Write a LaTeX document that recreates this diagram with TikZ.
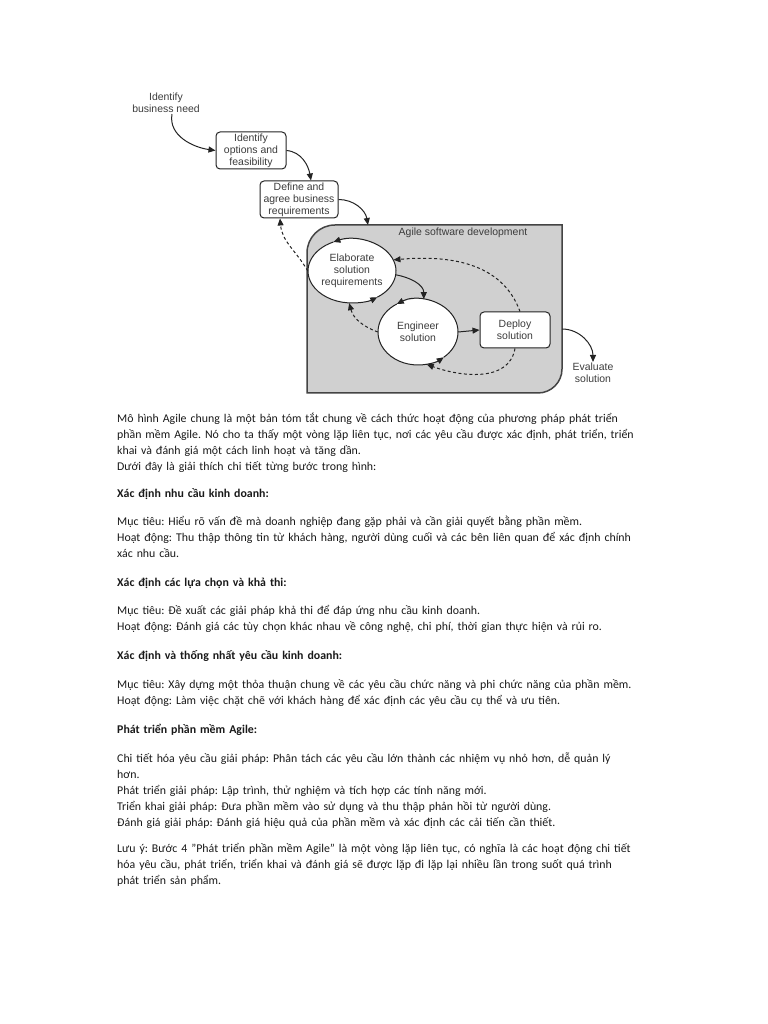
\documentclass[tikz,border=0pt]{standalone}
\usepackage{fontspec}
\setmainfont{Carlito}
\newfontfamily\diagfont{Liberation Sans}
\usetikzlibrary{arrows.meta,shapes.geometric}
\definecolor{boxgray}{RGB}{208,208,208}
\definecolor{ink}{RGB}{35,35,35}
\definecolor{label}{RGB}{60,60,60}
\frenchspacing

\tikzset{
  lbl/.style={font=\diagfont\fontsize{10.5}{12}\selectfont, text=label, align=center, inner sep=1bp},
  stepbox/.style={lbl, draw=ink, fill=white, line width=1bp, rounded corners=4bp, minimum width=70bp, minimum height=37bp},
  loopnode/.style={lbl, ellipse, fill=white, inner sep=0pt},
  flow/.style={->, draw=ink, line width=1bp},
  back/.style={->, draw=ink, line width=1bp, dash pattern=on 3bp off 2.5bp},
  body/.style={anchor=base west, inner sep=0pt, text width=640bp, align=left, text=black!90,
    font=\fontsize{11.9}{16}\selectfont},
  head/.style={body, font=\fontsize{11.9}{16}\selectfont\bfseries}
}

\begin{document}
\begin{tikzpicture}[x=1bp, y=1bp, >={Triangle[length=7bp,width=6bp]}]
  \useasboundingbox (0,0) rectangle (768,1024);

  % agile container
  \draw[fill=boxgray, draw=ink!85, line width=1.5bp]
    (307,631) -- (307,771) arc[start angle=180, end angle=90, radius=28bp]
    -- (562,799) -- (562,655) arc[start angle=0, end angle=-90, radius=24bp] -- cycle;
  \node[lbl] (agile) at (463,791) {Agile software development};

  % steps
  \node[lbl] (need) at (166,921) {Identify\\business need};
  \node[stepbox] (opt) at (251,873.5) {Identify\\options and\\feasibility};
  \node[stepbox, minimum width=78bp] (def) at (299,824.5) {Define and\\agree business\\requirements};
  \node[loopnode, minimum width=88bp, minimum height=64bp] (elab) at (352,753) {Elaborate\\solution\\requirements};
  \node[loopnode, minimum width=80bp, minimum height=66bp] (eng) at (418,692) {Engineer\\solution};
  \node[stepbox, minimum height=36bp] (dep) at (515,694) {Deploy\\solution};
  \node[lbl] (eval) at (593,651) {Evaluate\\solution};
  \coordinate (agtop) at (368,799);
  \coordinate (agright) at (562,695);

  % iteration arcs round the ellipses
  \draw[flow] (elab.center) ++(-55:44bp and 32bp) arc[start angle=-55, end angle=115, x radius=44bp, y radius=32bp];
  \draw[flow] (elab.center) ++(115:44bp and 32bp) arc[start angle=115, end angle=305, x radius=44bp, y radius=32bp];
  \draw[flow] (eng.center) ++(-50:40bp and 33bp) arc[start angle=-50, end angle=122, x radius=40bp, y radius=33bp];
  \draw[flow] (eng.center) ++(122:40bp and 33bp) arc[start angle=122, end angle=310, x radius=40bp, y radius=33bp];

  % forward flow
  \draw[flow] ([xshift=6bp]need.south) to[out=-100, in=172] (opt.west);
  \draw[flow] (opt.east) to[out=-5, in=100] ([xshift=12bp]def.north);
  \draw[flow] (def.east) to[out=0, in=100] (agtop);
  \draw[flow] (elab.-5) to[out=-10, in=90] (eng.80);
  \draw[flow] (eng.east) -- (dep.west);
  \draw[flow] (agright) to[out=0, in=90] (eval.north);

  % feedback
  \draw[back] (elab.west) to[out=120, in=-85] ([xshift=-19bp]def.south);
  \draw[back] ([xshift=5bp]dep.north) to[out=110, in=5] (elab.15);
  \draw[back] (eng.west) to[out=160, in=-75] (elab.-95);
  \draw[back] (dep.south) to[out=-100, in=-20] (eng.-75);

  % explanation text
  \node[body] (intro) at (117,601) {Mô hình Agile chung là một bản tóm tắt chung về cách thức hoạt động của phương pháp phát triển\\
    phần mềm Agile. Nó cho ta thấy một vòng lặp liên tục, nơi các yêu cầu được xác định, phát triển, triển\\
    khai và đánh giá một cách linh hoạt và tăng dần.\\
    Dưới đây là giải thích chi tiết từng bước trong hình:};
  \node[head] (h1) at (117,526) {Xác định nhu cầu kinh doanh:};
  \node[body] (p1) at (117,498) {Mục tiêu: Hiểu rõ vấn đề mà doanh nghiệp đang gặp phải và cần giải quyết bằng phần mềm.\\
    Hoạt động: Thu thập thông tin từ khách hàng, người dùng cuối và các bên liên quan để xác định chính\\
    xác nhu cầu.};
  \node[head] (h2) at (117,437) {Xác định các lựa chọn và khả thi:};
  \node[body] (p2) at (117,409) {Mục tiêu: Đề xuất các giải pháp khả thi để đáp ứng nhu cầu kinh doanh.\\
    Hoạt động: Đánh giá các tùy chọn khác nhau về công nghệ, chi phí, thời gian thực hiện và rủi ro.};
  \node[head] (h3) at (117,364) {Xác định và thống nhất yêu cầu kinh doanh:};
  \node[body] (p3) at (117,335) {Mục tiêu: Xây dựng một thỏa thuận chung về các yêu cầu chức năng và phi chức năng của phần mềm.\\
    Hoạt động: Làm việc chặt chẽ với khách hàng để xác định các yêu cầu cụ thể và ưu tiên.};
  \node[head] (h4) at (117,290) {Phát triển phần mềm Agile:};
  \node[body] (p4) at (117,261) {Chi tiết hóa yêu cầu giải pháp: Phân tách các yêu cầu lớn thành các nhiệm vụ nhỏ hơn, dễ quản lý\\
    hơn.\\
    Phát triển giải pháp: Lập trình, thử nghiệm và tích hợp các tính năng mới.\\
    Triển khai giải pháp: Đưa phần mềm vào sử dụng và thu thập phản hồi từ người dùng.\\
    Đánh giá giải pháp: Đánh giá hiệu quả của phần mềm và xác định các cải tiến cần thiết.};
  \node[body] (note) at (117,171) {Lưu ý: Bước 4 "Phát triển phần mềm Agile" là một vòng lặp liên tục, có nghĩa là các hoạt động chi tiết\\
    hóa yêu cầu, phát triển, triển khai và đánh giá sẽ được lặp đi lặp lại nhiều lần trong suốt quá trình\\
    phát triển sản phẩm.};
\end{tikzpicture}
\end{document}
